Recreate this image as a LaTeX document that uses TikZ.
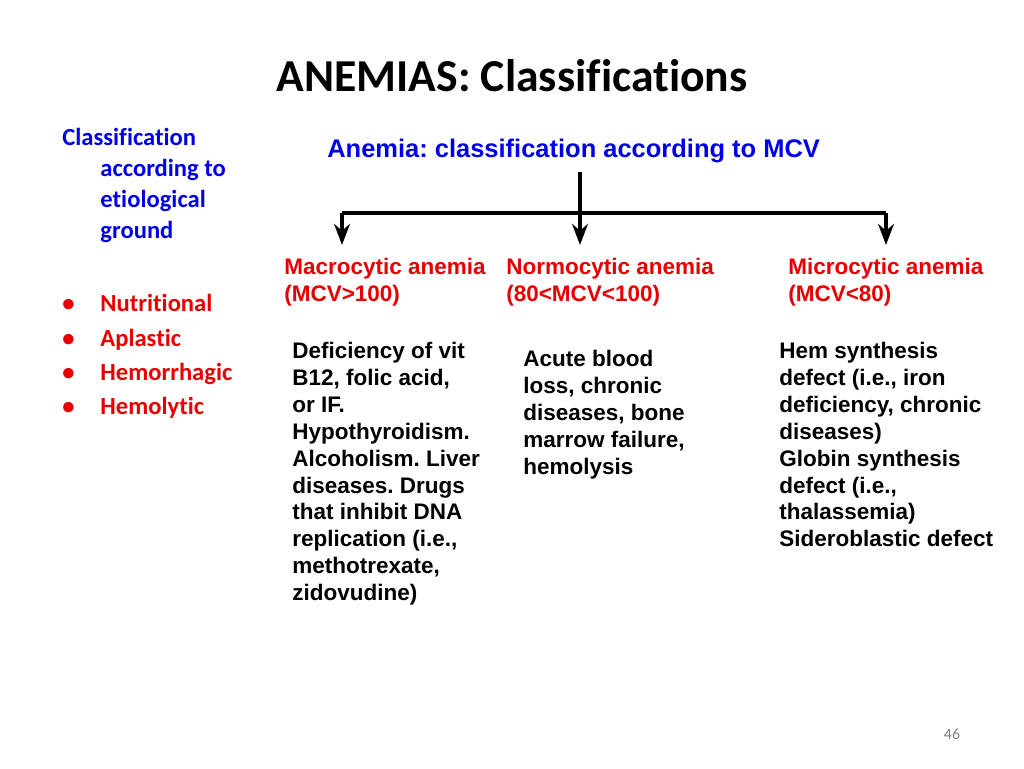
\documentclass[tikz,border=0pt]{standalone}
\usepackage{fontspec}
\setmainfont{Liberation Sans}
\newfontfamily\calib[Ligatures=NoCommon]{Carlito}
\frenchspacing
\usetikzlibrary{positioning,arrows.meta}
\definecolor{hdblue}{RGB}{0,0,230}
\definecolor{catred}{RGB}{230,0,0}
\newcommand{\blt}{{\calib\textbullet}\hspace{1.05em}}
\tikzset{>=Stealth,
  body/.style={anchor=north west,align=left,inner sep=0pt,font=\fontsize{12.8}{15.3}\selectfont\bfseries},
  cat/.style={body,text=catred},
  leftlist/.style={anchor=north west,align=left,inner sep=0pt,font=\calib\fontsize{14}{17.6}\selectfont\bfseries},
  branch/.style={line width=2pt}}
\begin{document}
\begin{tikzpicture}[x={(0.02cm,0)},y={(0,-0.02cm)}]
\useasboundingbox (0,0) rectangle (1024,768);
% title
\node[font=\calib\fontsize{26}{30}\selectfont\bfseries] (title) at (512,76) {ANEMIAS: Classifications};
% left column
\node[leftlist,text=hdblue] (etio) at (62,128) {Classification\\\hspace{1.55em}according to\\\hspace{1.55em}etiological\\\hspace{1.55em}ground};
\node[leftlist,text=catred] (kinds) at (62,294) {\blt Nutritional\\[2pt]\blt Aplastic\\[2pt]\blt Hemorrhagic\\[2pt]\blt Hemolytic};
% header
\node[body,text=hdblue,font=\fontsize{14.5}{16}\selectfont\bfseries] (mcv) at (327,139) {Anemia: classification according to MCV};
% branches
\coordinate (top) at (580,172);
\coordinate (mid) at (580,213);
\coordinate (lft) at (342,213);
\coordinate (rgt) at (886,213);
\coordinate (ma) at (342,245);
\coordinate (na) at (580,245);
\coordinate (ia) at (886,245);
\draw[branch,->] (top) -- (na);
\draw[branch] (lft) -- (rgt);
\draw[branch,->] (lft) -- (ma);
\draw[branch,->] (rgt) -- (ia);
% categories
\node[cat] (macro) at (284,258) {Macrocytic anemia\\(MCV>100)};
\node[cat] (normo) at (506,258) {Normocytic anemia\\(80<MCV<100)};
\node[cat] (micro) at (788,258) {Microcytic anemia\\(MCV<80)};
% causes
\node[body] (macrotxt) at (292,342) {Deficiency of vit\\B12, folic acid,\\or IF.\\Hypothyroidism.\\Alcoholism. Liver\\diseases. Drugs\\that inhibit DNA\\replication (i.e.,\\methotrexate,\\zidovudine)};
\node[body] (normotxt) at (523,350) {Acute blood\\loss, chronic\\diseases, bone\\marrow failure,\\hemolysis};
\node[body] (microtxt) at (779,342) {Hem synthesis\\defect (i.e., iron\\deficiency, chronic\\diseases)\\Globin synthesis\\defect (i.e.,\\thalassemia)\\Sideroblastic defect};
% page number
\node[font=\calib\fontsize{9}{11}\selectfont,text=gray] (page) at (952,734) {46};
\end{tikzpicture}
\end{document}
